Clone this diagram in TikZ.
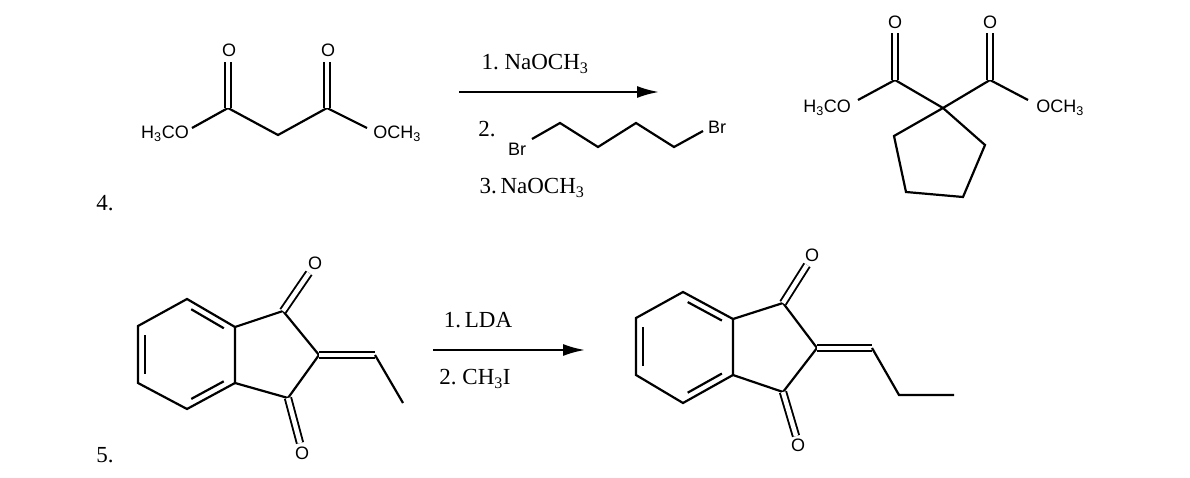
\documentclass[tikz,border=0pt]{standalone}
\usepackage{fontspec}
\setmainfont{Liberation Serif}
\newfontfamily\lbl{Liberation Sans}
\usetikzlibrary{calc,arrows.meta}
\tikzset{
  bond/.style={line width=2.2pt},
  dbl/.style={line width=1.9pt,double,double distance=4.5pt},
  atom/.style={font=\lbl\fontsize{18}{18}\selectfont,inner sep=0pt},
  rgt/.style={font=\fontsize{23}{23}\selectfont,inner sep=0pt},
  rxn/.style={line width=2.2pt,-{Latex[length=22pt,width=12pt]}},
}
\newcommand\innerbond[3]{\draw[bond,shorten <=5pt,shorten >=5pt] ($(#1)!0.14!(#3)$) -- ($(#2)!0.14!(#3)$);}
\begin{document}
\begin{tikzpicture}[x=1pt,y=-1pt]
\useasboundingbox (0,0) rectangle (1190,478);
% labels 4, 5
\node[rgt] (n4) at (105,203) {4.};
\node[rgt] (n5) at (105,455) {5.};
% malonate
\coordinate (ma) at (228,108); \coordinate (mb) at (278,135); \coordinate (mc) at (327,108);
\coordinate (mlo) at (192,128); \coordinate (mro) at (367,128);
\coordinate (mo1) at (228,62); \coordinate (mo2) at (327,62);
\node[atom] (mO1) at (229,50) {O};
\node[atom] (mO2) at (328,50) {O};
\node[atom] (mL) at (165,134) {H\textsubscript{3}CO};
\node[atom] (mR) at (397,134) {OCH\textsubscript{3}};
\draw[bond] (mlo) -- (ma) -- (mb) -- (mc) -- (mro);
\draw[dbl] (ma) -- (mo1); \draw[dbl] (mc) -- (mo2);
% arrow 1
\coordinate (a1s) at (459,92); \coordinate (a1e) at (659,92);
\draw[rxn] (a1s) -- (a1e);
\node[rgt] (r1) at (535,64) {1.\ NaOCH\textsubscript{3}};
\node[rgt] (r2) at (487,129) {2.};
\node[atom] (br1) at (517,149) {Br};
\node[atom] (br2) at (717,127) {Br};
\coordinate (b0) at (532,139); \coordinate (b1) at (560,123); \coordinate (b2) at (598,147);
\coordinate (b3) at (636,123); \coordinate (b4) at (674,147); \coordinate (b5) at (703,131);
\draw[bond] (b0) -- (b1) -- (b2) -- (b3) -- (b4) -- (b5);
\node[rgt] (r3) at (532,188) {3.\,NaOCH\textsubscript{3}};
% product 4
\coordinate (q) at (943,108); \coordinate (pl) at (895,80); \coordinate (pr) at (990,80);
\coordinate (plo) at (858,100); \coordinate (pro) at (1028,100);
\coordinate (po1) at (895,33); \coordinate (po2) at (990,33);
\node[atom] (pO1) at (895,22) {O};
\node[atom] (pO2) at (990,22) {O};
\node[atom] (pL) at (827,108) {H\textsubscript{3}CO};
\node[atom] (pR) at (1060,108) {OCH\textsubscript{3}};
\draw[bond] (plo) -- (pl) -- (q) -- (pr) -- (pro);
\draw[dbl] (pl) -- (po1); \draw[dbl] (pr) -- (po2);
\coordinate (c1) at (985,145); \coordinate (c2) at (963,197); \coordinate (c3) at (906,192); \coordinate (c4) at (894,136);
\draw[bond] (q) -- (c1) -- (c2) -- (c3) -- (c4) -- cycle;
% indanedione 1
\coordinate (h1) at (187,299); \coordinate (h2) at (235,327); \coordinate (h3) at (235,383);
\coordinate (h4) at (187,409); \coordinate (h5) at (138,383); \coordinate (h6) at (138,326);
\coordinate (hc) at (186,354);
\draw[bond] (h1) -- (h2) -- (h3) -- (h4) -- (h5) -- (h6) -- cycle;
\innerbond{h1}{h2}{hc} \innerbond{h3}{h4}{hc} \innerbond{h5}{h6}{hc}
\coordinate (k1) at (283,311); \coordinate (k2) at (319,355); \coordinate (k3) at (288,398);
\coordinate (ko1) at (309,273); \coordinate (ko2) at (300,443);
\coordinate (kv) at (375,355); \coordinate (km) at (403,403);
\node[atom] (kO1) at (315,263) {O};
\node[atom] (kO2) at (302,453) {O};
\draw[bond] (h2) -- (k1) -- (k2) -- (k3) -- (h3);
\draw[dbl] (k1) -- (ko1); \draw[dbl] (k3) -- (ko2);
\draw[dbl] (k2) -- (kv); \draw[bond] (kv) -- (km);
% arrow 2
\coordinate (a2s) at (433,350); \coordinate (a2e) at (585,350);
\draw[rxn] (a2s) -- (a2e);
\node[rgt] (s1) at (478,320) {1.\,LDA};
\node[rgt] (s2) at (475,379) {2.\ CH\textsubscript{3}I};
% indanedione 2
\coordinate (g1) at (683,292); \coordinate (g2) at (733,319); \coordinate (g3) at (733,375);
\coordinate (g4) at (683,403); \coordinate (g5) at (636,375); \coordinate (g6) at (636,318);
\coordinate (gc) at (685,347);
\draw[bond] (g1) -- (g2) -- (g3) -- (g4) -- (g5) -- (g6) -- cycle;
\innerbond{g1}{g2}{gc} \innerbond{g3}{g4}{gc} \innerbond{g5}{g6}{gc}
\coordinate (j1) at (783,303); \coordinate (j2) at (817,348); \coordinate (j3) at (783,392);
\coordinate (jo1) at (807,265); \coordinate (jo2) at (796,436);
\coordinate (jv) at (872,348); \coordinate (jm) at (899,395); \coordinate (je) at (954,395);
\node[atom] (jO1) at (812,255) {O};
\node[atom] (jO2) at (798,445) {O};
\draw[bond] (g2) -- (j1) -- (j2) -- (j3) -- (g3);
\draw[dbl] (j1) -- (jo1); \draw[dbl] (j3) -- (jo2);
\draw[dbl] (j2) -- (jv); \draw[bond] (jv) -- (jm) -- (je);
\end{tikzpicture}
\end{document}
